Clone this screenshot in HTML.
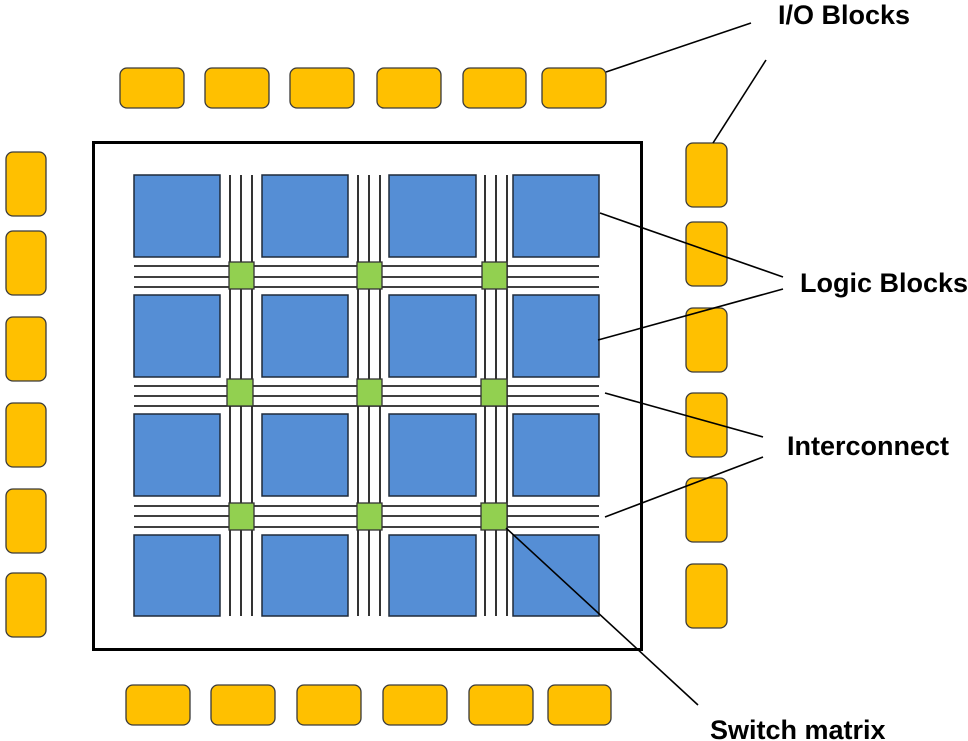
<!DOCTYPE html>
<html><head><meta charset="utf-8"><style>
html,body{margin:0;padding:0;background:#fff;}
svg{display:block;}
text{font-family:"Liberation Sans",Arial,sans-serif;font-weight:bold;font-size:27px;fill:#000;}
</style></head><body>
<svg width="968" height="741" viewBox="0 0 968 741" xmlns="http://www.w3.org/2000/svg">
<g fill="#FFC000" stroke="#3a3a3a" stroke-width="1.3">
<rect x="120" y="68" width="64" height="40" rx="7"/>
<rect x="205" y="68" width="64" height="40" rx="7"/>
<rect x="290" y="68" width="64" height="40" rx="7"/>
<rect x="377" y="68" width="64" height="40" rx="7"/>
<rect x="463" y="68" width="63" height="40" rx="7"/>
<rect x="542" y="68" width="64" height="40" rx="7"/>
<rect x="126" y="685" width="64" height="40" rx="7"/>
<rect x="211" y="685" width="64" height="40" rx="7"/>
<rect x="297" y="685" width="64" height="40" rx="7"/>
<rect x="383" y="685" width="64" height="40" rx="7"/>
<rect x="469" y="685" width="64" height="40" rx="7"/>
<rect x="548" y="685" width="63" height="40" rx="7"/>
<rect x="6" y="152" width="40" height="64" rx="7"/>
<rect x="6" y="231" width="40" height="64" rx="7"/>
<rect x="6" y="317" width="40" height="64" rx="7"/>
<rect x="6" y="403" width="40" height="64" rx="7"/>
<rect x="6" y="489" width="40" height="64" rx="7"/>
<rect x="6" y="573" width="40" height="64" rx="7"/>
<rect x="686" y="143" width="41" height="64" rx="7"/>
<rect x="686" y="222" width="41" height="64" rx="7"/>
<rect x="686" y="308" width="41" height="64" rx="7"/>
<rect x="686" y="393" width="41" height="64" rx="7"/>
<rect x="686" y="478" width="41" height="64" rx="7"/>
<rect x="686" y="564" width="41" height="64" rx="7"/>
</g>
<rect x="93.5" y="142.5" width="548" height="507" fill="none" stroke="#000" stroke-width="3"/>
<g stroke="#000" stroke-width="1.6">
<line x1="230" y1="175" x2="230" y2="616"/><line x1="241" y1="175" x2="241" y2="616"/><line x1="252" y1="175" x2="252" y2="616"/>
<line x1="358" y1="175" x2="358" y2="616"/><line x1="369" y1="175" x2="369" y2="616"/><line x1="380" y1="175" x2="380" y2="616"/>
<line x1="485" y1="175" x2="485" y2="616"/><line x1="496" y1="175" x2="496" y2="616"/><line x1="507" y1="175" x2="507" y2="616"/>
<line x1="134" y1="266" x2="599" y2="266"/><line x1="134" y1="277" x2="599" y2="277"/><line x1="134" y1="287" x2="599" y2="287"/>
<line x1="134" y1="386" x2="599" y2="386"/><line x1="134" y1="396" x2="599" y2="396"/><line x1="134" y1="406" x2="599" y2="406"/>
<line x1="134" y1="506" x2="599" y2="506"/><line x1="134" y1="516" x2="599" y2="516"/><line x1="134" y1="527" x2="599" y2="527"/>
</g>
<g fill="#558ED5" stroke="#1f2a3a" stroke-width="1.5">
<rect x="134" y="175" width="86" height="82"/><rect x="262" y="175" width="86" height="82"/><rect x="389" y="175" width="87" height="82"/><rect x="513" y="175" width="86" height="82"/>
<rect x="134" y="295" width="86" height="82"/><rect x="262" y="295" width="86" height="82"/><rect x="389" y="295" width="87" height="82"/><rect x="513" y="295" width="86" height="82"/>
<rect x="134" y="414" width="86" height="82"/><rect x="262" y="414" width="86" height="82"/><rect x="389" y="414" width="87" height="82"/><rect x="513" y="414" width="86" height="82"/>
<rect x="134" y="535" width="86" height="81"/><rect x="262" y="535" width="86" height="81"/><rect x="389" y="535" width="87" height="81"/><rect x="513" y="535" width="86" height="81"/>
</g>
<g fill="#92D050" stroke="#333" stroke-width="1.3">
<rect x="229" y="262" width="25" height="27"/><rect x="357" y="262" width="25" height="27"/><rect x="482" y="262" width="25" height="27"/>
<rect x="227" y="379" width="26" height="27"/><rect x="357" y="379" width="25" height="27"/><rect x="481" y="379" width="26" height="27"/>
<rect x="229" y="503" width="25" height="27"/><rect x="357" y="503" width="25" height="27"/><rect x="481" y="503" width="26" height="27"/>
</g>
<g stroke="#000" stroke-width="1.6">
<line x1="606" y1="72" x2="751" y2="23"/>
<line x1="713" y1="143" x2="766" y2="60"/>
<line x1="600" y1="213" x2="783" y2="277"/>
<line x1="598" y1="340" x2="783" y2="289"/>
<line x1="605" y1="393" x2="763" y2="437"/>
<line x1="605" y1="517" x2="763" y2="457"/>
<line x1="506" y1="528" x2="698" y2="705"/>
</g>
<text x="778" y="24">I/O Blocks</text>
<text x="800" y="292">Logic Blocks</text>
<text x="787" y="455">Interconnect</text>
<text x="710" y="739">Switch matrix</text>
</svg>
</body></html>
